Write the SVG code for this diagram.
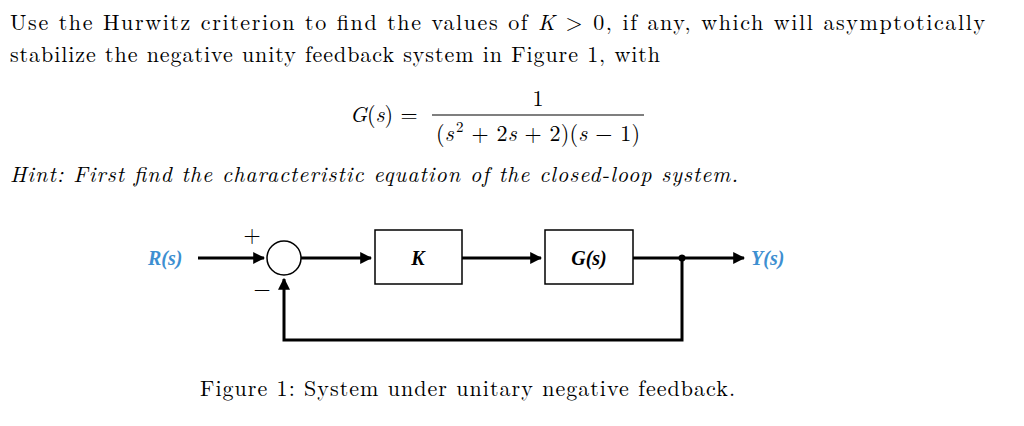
<svg xmlns="http://www.w3.org/2000/svg" width="1024" height="426" viewBox="0 0 1024 426">
<style>
.t{font-family:"Latin Modern Roman","DejaVu Serif","Liberation Serif",serif;font-size:22px;fill:#000}
.i{font-style:italic}
.b{fill:#fff;stroke:#000;stroke-width:1.5}
.w{fill:none;stroke:#000;stroke-width:3}
.l{font-family:"Liberation Serif",serif;font-style:italic;font-weight:bold;font-size:20px;fill:#3d8fd1}
.bl{font-family:"Liberation Serif",serif;font-style:italic;font-weight:bold;font-size:20px;fill:#000}
</style>
<defs><marker id="a" viewBox="0 0 10 10" refX="9" refY="5" markerWidth="4" markerHeight="4" orient="auto" markerUnits="strokeWidth"><path d="M0,0L10,5L0,10z" fill="#000"/></marker></defs>
<rect width="1024" height="426" fill="#fff"/>
<text class="t" x="10" y="30" textLength="975" lengthAdjust="spacing">Use the Hurwitz criterion to find the values of <tspan class="i">K</tspan> &gt; 0, if any, which will asymptotically</text>
<text class="t" x="10" y="62" textLength="650" lengthAdjust="spacing">stabilize the negative unity feedback system in Figure 1, with</text>
<text class="t" x="350" y="122"><tspan class="i">G</tspan>(<tspan class="i">s</tspan>) =</text>
<text class="t" x="538" y="106" text-anchor="middle">1</text>
<line x1="432" y1="115" x2="644" y2="115" stroke="#000" stroke-width="1.2"/>
<text class="t" x="436" y="141" textLength="204" lengthAdjust="spacing">(<tspan class="i">s</tspan><tspan font-size="15" dx="2" dy="-9">2</tspan><tspan dy="9"> + 2</tspan><tspan class="i">s</tspan> + 2)(<tspan class="i">s</tspan> − 1)</text>
<text class="t i" x="10" y="182" textLength="728" lengthAdjust="spacing">Hint: First find the characteristic equation of the closed-loop system.</text>
<g id="connectors">
<path class="w" d="M198,258H264" marker-end="url(#a)"/>
<path class="w" d="M301,258H371" marker-end="url(#a)"/>
<path class="w" d="M462,258H541" marker-end="url(#a)"/>
<path class="w" d="M633,258H744" marker-end="url(#a)"/>
<path class="w" d="M682,258V340H284V279" marker-end="url(#a)"/>
<circle cx="682" cy="258" r="3.5"/>
</g>
<g id="sum"><circle class="b" cx="284" cy="258" r="17"/><text class="t" x="252" y="242" text-anchor="middle" font-size="18">+</text><text class="t" x="262" y="296" text-anchor="middle" font-size="18">−</text></g>
<g id="R"><text class="l" x="148" y="265">R(s)</text></g>
<g id="K"><rect class="b" x="375" y="230" width="87" height="54"/><text class="bl" x="418" y="265" text-anchor="middle">K</text></g>
<g id="G"><rect class="b" x="545" y="230" width="88" height="54"/><text class="bl" x="589" y="265" text-anchor="middle">G(s)</text></g>
<g id="Y"><text class="l" x="751" y="265">Y(s)</text></g>
<text class="t" x="200" y="396" textLength="535" lengthAdjust="spacing">Figure 1: System under unitary negative feedback.</text>
</svg>
